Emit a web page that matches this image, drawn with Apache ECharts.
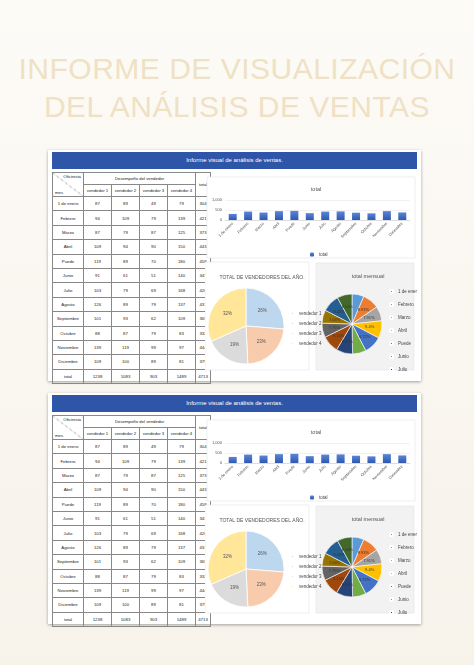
<!DOCTYPE html>
<html><head><meta charset="utf-8">
<script src="https://cdn.jsdelivr.net/npm/echarts@6/dist/echarts.min.js"></script>
<style>
body{margin:0;width:474px;height:665px;background:linear-gradient(#fdfbf7,#f7f2ea);position:relative;overflow:hidden;font-family:'Liberation Sans',sans-serif}
.title{position:absolute;left:0;width:474px;text-align:center;color:#efe1c4;font-family:'Liberation Sans Narrow','Liberation Sans',sans-serif;font-size:30px;letter-spacing:0.5px}
.panel{position:absolute;left:48px;width:373px;height:231px;background:#fff;box-shadow:0 1px 3px rgba(0,0,0,.35)}
.hdr{position:absolute;left:4px;top:2px;width:365px;height:17px;background:#2e55a8;color:#fff;font-size:6px;text-align:center;line-height:17px}
table{position:absolute;left:4px;top:22px;border-collapse:collapse;font-size:4.3px;color:#222}
td{border:0.6px solid #888;text-align:center;height:13.4px;padding:0}
.ch{position:absolute;left:157px;top:22px;width:212px;height:208px}
</style></head><body>
<div class="title" style="top:52px">INFORME DE VISUALIZACIÓN</div>
<div class="title" style="top:90px">DEL ANÁLISIS DE VENTAS</div>
<script>
const months = ['1 de enero','Febrero','Marzo','Abril','Puede','Junio','Julio','Agosto','Septiembre','Octubre','Noviembre','Diciembre'];
const sellers = ['vendedor 1','vendedor 2','vendedor 3','vendedor 4'];
const v1 = [87,94,87,109,119,91,103,126,101,88,139,109];
const v2 = [89,109,79,94,89,61,79,89,93,87,119,100];
const v3 = [49,79,87,90,70,51,69,79,62,79,99,89];
const v4 = [79,139,125,150,180,140,168,137,109,83,97,81];
const monthTotals = [304,421,373,443,458,343,420,431,365,332,444,379];
const sellerTotals = [1238,1083,903,1489];
const grandTotal = 4713;
const sellerPct = [26,23,19,32];
const yTicks = [0,500,1000];

const pieLight = ['#bdd7ee','#f8cbad','#dbdbdb','#ffe699'];
const office = ['#5b9bd5','#ed7d31','#a5a5a5','#ffc000','#4472c4','#70ad47','#264478','#9e480e','#636363','#997300','#255e91','#43682b'];

function buildTable(){
  let h = '<tr><td rowspan="2" style="width:30px;position:relative;background:linear-gradient(to top right,#fff 49%,#888 50%,#fff 51%)"><span style="position:absolute;right:2px;top:1px">Oficinista</span><span style="position:absolute;left:2px;bottom:1px">mes</span></td>'
    + '<td colspan="4" style="height:11px">Desempeño del vendedor</td><td rowspan="2" style="width:14px">total</td></tr><tr>';
  sellers.forEach(s => h += '<td style="width:27px;height:11px">' + s + '</td>');
  h += '</tr>';
  months.forEach((m, i) => {
    h += '<tr><td>' + m + '</td><td>' + v1[i] + '</td><td>' + v2[i] + '</td><td>' + v3[i] + '</td><td>' + v4[i] + '</td><td>' + monthTotals[i] + '</td></tr>';
  });
  h += '<tr><td>total</td>' + sellerTotals.map(t => '<td>' + t + '</td>').join('') + '<td>' + grandTotal + '</td></tr>';
  return '<table>' + h + '</table>';
}

function buildOption(){
  const lab = {fontSize: 4.5, color: '#444'};
  return {
    animation: false,
    graphic: [
      {type:'rect', shape:{x:2,y:5,width:208,height:81}, style:{fill:'#fff',stroke:'#e3e3e3',lineWidth:0.6}},
      {type:'rect', shape:{x:0,y:90,width:104,height:108}, style:{fill:'#fff',stroke:'#e3e3e3',lineWidth:0.6}},
      {type:'rect', shape:{x:111,y:91,width:98,height:107}, style:{fill:'#f2f2f2',stroke:'#e3e3e3',lineWidth:0.6}}
    ],
    title: [
      {text:'total', left:106, top:9, textAlign:'center', textStyle:{fontSize:5.5,fontWeight:'normal',color:'#555'}},
      {text:'TOTAL DE VENDEDORES DEL AÑO.', left:52, top:98, textAlign:'center', textStyle:{fontSize:5,fontWeight:'normal',color:'#555'}},
      {text:'total mensual', left:158, top:96, textAlign:'center', textStyle:{fontSize:5.5,fontWeight:'normal',color:'#555'}}
    ],
    legend: [
      {data:['total'], left:100, top:75, itemWidth:4, itemHeight:4, textStyle:lab},
      {data:sellers, orient:'vertical', left:80, top:134, itemWidth:3, itemHeight:3, itemGap:5, textStyle:lab},
      {data:months.slice(0,7), orient:'vertical', left:179, top:112, itemWidth:3, itemHeight:3, itemGap:8, textStyle:lab}
    ],
    grid: {left:20, right:7, top:28, height:20},
    xAxis: {type:'category', data:months, axisLine:{lineStyle:{color:'#ddd'}}, axisTick:{show:false},
      axisLabel:{rotate:45, fontSize:4, color:'#555', interval:0, margin:3}},
    yAxis: {type:'value', min:yTicks[0], max:yTicks[2], interval:500, axisLabel:{fontSize:4, color:'#555', margin:3},
      splitLine:{lineStyle:{color:'#e5e5e5', width:0.5}}},
    series: [
      {name:'total', type:'bar', data:monthTotals, barWidth:8,
        itemStyle:{color:new echarts.graphic.LinearGradient(0,0,0,1,[{offset:0,color:'#5a86d6'},{offset:1,color:'#2f57b0'}])}},
      {type:'pie', center:[41,154], radius:38, startAngle:90, clockwise:true,
        data:sellers.map((s,i)=>({name:s, value:sellerTotals[i], itemStyle:{color:pieLight[i]}})),
        itemStyle:{borderColor:'#fff', borderWidth:0.8},
        label:{position:'inside', formatter:(p)=>sellerPct[p.dataIndex]+'%', fontSize:4.5, color:'#555'}},
      {type:'pie', center:[147,152], radius:30, startAngle:90, clockwise:true,
        data:months.map((m,i)=>({name:m, value:monthTotals[i], itemStyle:{color:office[i]}})),
        itemStyle:{borderColor:'#fff', borderWidth:0.6},
        label:{position:'inside', formatter:'{d}%', fontSize:4, color:'#333', precision:0}}
    ]
  };
}

[150, 393].forEach(top => {
  const p = document.createElement('div');
  p.className = 'panel';
  p.style.top = top + 'px';
  p.innerHTML = '<div class="hdr">Informe visual de análisis de ventas.</div>' + buildTable() + '<div class="ch"></div>';
  document.body.appendChild(p);
  const chart = echarts.init(p.querySelector('.ch'));
  chart.setOption(buildOption());
});
</script>
</body></html>
